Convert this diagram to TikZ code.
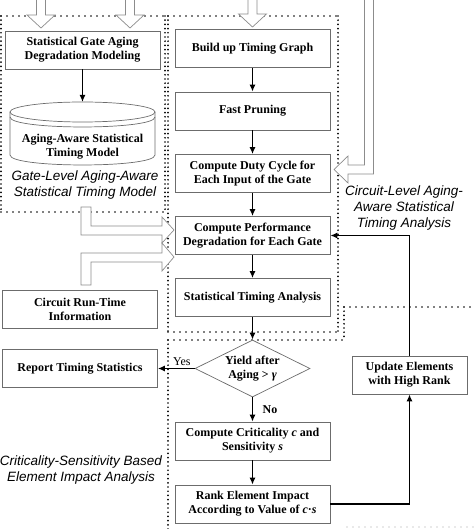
\documentclass[tikz,border=0pt]{standalone}
\usepackage{fontspec}
\setmainfont{Liberation Serif}
\newfontfamily\FALabelFont{Liberation Sans}
\usetikzlibrary{arrows.meta}
\usetikzlibrary{shapes.geometric}

\newcommand{\FAShaftHalf}{4.5}
\newcommand{\FAHeadHalf}{14}
\newcommand{\FAHeadLength}{13}
\newcommand{\FAHollowDown}[3]{
  \coordinate (#1) at (#2,#3);
  \draw [hollow] (#2-\FAShaftHalf,-1) -- (#2-\FAShaftHalf,#3-\FAHeadLength) -- (#2-\FAHeadHalf,#3-\FAHeadLength) -- (#1)
    -- (#2+\FAHeadHalf,#3-\FAHeadLength) -- (#2+\FAShaftHalf,#3-\FAHeadLength) -- (#2+\FAShaftHalf,-1);
}

\tikzset{
  box/.style={draw=gray!85!black, line width=0.7pt, fill=white, minimum width=155pt, minimum height=38pt,
    align=center, inner sep=1pt, font=\fontsize{12}{14}\selectfont\bfseries},
  smallbox/.style={box, minimum width=115pt},
  decision/.style={box, diamond, aspect=2, minimum width=115pt, minimum height=57pt, inner sep=0pt},
  boxline/.style={draw=gray!85!black, line width=0.7pt},
  flow/.style={-{Latex[length=7pt,width=6pt]}, line width=1.5pt},
  hollow/.style={draw=gray!90, fill=white, line width=0.7pt, line join=miter},
  dotsh/.style={line width=1.9pt, line cap=round, dash pattern=on 0pt off 6pt},
  dotsv/.style={line width=1.9pt, line cap=round, dash pattern=on 0pt off 4.2pt},
  region/.style={font=\FALabelFont\itshape\fontsize{13.5}{16}\selectfont, align=center, inner sep=0pt}
}

\begin{document}
\begin{tikzpicture}[x=1pt,y=-1pt]
\useasboundingbox (0,0) rectangle (474,529);

% dotted regions
\draw [dotsh] (1,16) -- (165,16) (1,212) -- (165,212);
\draw [dotsv] (1,16) -- (1,212) (165,16) -- (165,212);
\draw [dotsh] (168,16) -- (338,16) (168,332) -- (338,332);
\draw [dotsv] (168,16) -- (168,332) (338,16) -- (338,332);
\draw [dotsh] (344,307) -- (474,307) (168,340) -- (344,340);
\draw [dotsv] (344,307) -- (344,340) (168,340) -- (168,529);
\draw [dotsh, gray!35] (347,527) -- (474,527);

% inputs
\FAHollowDown{in1}{41}{28}
\FAHollowDown{in2}{130}{28}
\FAHollowDown{in3}{252.5}{27}
\coordinate (dutyin) at (334,169.5);
\draw [hollow] (364.5,-1) -- (364.5,165) -- (348,165) -- (348,156) -- (dutyin) -- (348,183) -- (348,174) -- (373.5,174) -- (373.5,-1);
\coordinate (perfin1) at (174,230);
\draw [hollow] (81,207) -- (91,207) -- (91,226) -- (162,226) -- (162,217) -- (perfin1) -- (162,243) -- (162,235) -- (81,235) -- cycle;
\coordinate (perfin2) at (174,257);
\draw [hollow] (81,285) -- (81,253) -- (162,253) -- (162,243) -- (perfin2) -- (162,271) -- (162,262) -- (91,262) -- (91,285) -- cycle;

% gate-level model
\node [box] (gatemod) at (82.5,50) {Statistical Gate Aging\\Degradation Modeling};
\draw [boxline] (10,112) -- (10,155) .. controls (10,168.3) and (155,168.3) .. (155,155) -- (155,112);
\draw [boxline] (82.5,112) ellipse [x radius=72.5pt, y radius=10pt];
\draw [boxline] (10,117) .. controls (10,130.3) and (155,130.3) .. (155,117);
\coordinate (modeltop) at (82.5,102);
\node [font=\fontsize{12}{14}\selectfont\bfseries, align=center] (model) at (82.5,147) {Aging-Aware Statistical\\Timing Model};
\node [region] (gatelabel) at (85,185) {Gate-Level Aging-Aware\\Statistical Timing Model};

% circuit-level analysis
\node [box] (build) at (252.5,48.5) {Build up Timing Graph};
\node [box] (prune) at (252.5,111) {Fast Pruning};
\node [box] (duty) at (252.5,173.5) {Compute Duty Cycle for\\Each Input of the Gate};
\node [box] (perf) at (252.5,235.5) {Compute Performance\\Degradation for Each Gate};
\node [box] (sta) at (252.5,297.5) {Statistical Timing Analysis};
\node [region] (circuitlabel) at (404,208) {Circuit-Level Aging-\\Aware Statistical\\Timing Analysis};
\node [box] (runtime) at (80,309.5) {Circuit Run-Time\\Information};

% element impact analysis
\node [decision] (yield) at (252.5,368.5) {Yield after\\Aging > \textit{γ}};
\node [box] (report) at (80,368.5) {Report Timing Statistics};
\node [box] (crit) at (252.5,441) {Compute Criticality \textit{c} and\\Sensitivity \textit{s}};
\node [box] (rank) at (252.5,504) {Rank Element Impact\\According to Value of \textit{c}·\textit{s}};
\node [smallbox] (update) at (409.5,375) {Update Elements\\with High Rank};
\node [region] (critlabel) at (81,470.5) {Criticality-Sensitivity Based\\Element Impact Analysis};

\draw [flow] (gatemod) -- (modeltop);
\draw [flow] (build) -- (prune);
\draw [flow] (prune) -- (duty);
\draw [flow] (duty) -- (perf);
\draw [flow] (perf) -- (sta);
\draw [flow] (sta) -- (yield);
\draw [flow] (yield.west) -- (report.east) node [above, pos=0.35, inner sep=2pt, font=\fontsize{12}{14}\selectfont] {Yes};
\draw [flow] (yield) -- (crit) node [right, midway, xshift=6pt, font=\fontsize{12}{14}\selectfont\bfseries] {No};
\draw [flow] (crit) -- (rank);
\draw [flow] (rank.east) -| (update.south);
\draw [flow] (update.north) |- (perf.east);
\end{tikzpicture}
\end{document}
